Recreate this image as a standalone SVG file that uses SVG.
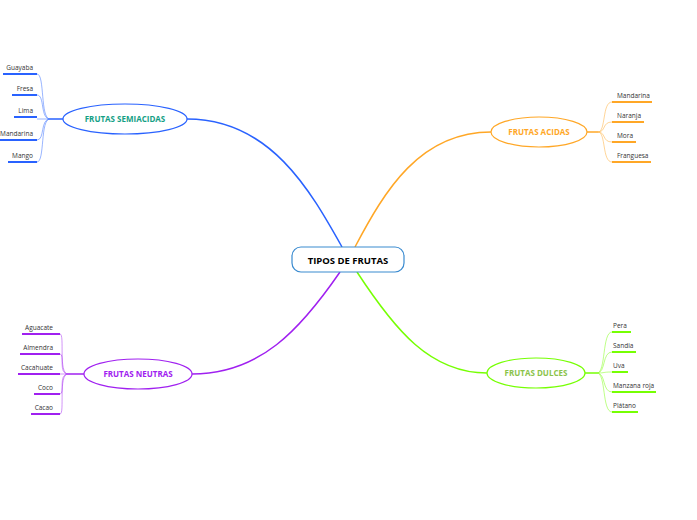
<svg xmlns="http://www.w3.org/2000/svg" width="697" height="520" viewBox="0 0 697 520">
<style>
text{font-family:"Open Sans","Noto Sans",sans-serif}
.leaf{font-size:6.5px;fill:#333}
.lr{text-anchor:end}
.main{font-size:8px;font-weight:bold;text-anchor:middle}
.c{fill:none}
.b{stroke:#2962ff}.o{stroke:#ffa726}.p{stroke:#a020f0}.g{stroke:#76ff03}
.thin{stroke-width:0.8;opacity:0.6}
.ul{stroke-width:2}
</style>
<rect width="697" height="520" fill="#fff"/>
<g id="connectors" class="c">
<path class="b" stroke-width="1.5" d="M342,247 C310,190 270,119 187,119"/>
<path class="o" stroke-width="1.5" d="M355,247 C385,190 420,132 491,132"/>
<path class="p" stroke-width="1.5" d="M340,272 C300,330 260,374 192,374"/>
<path class="g" stroke-width="1.5" d="M357,272 C395,330 430,373 487,373"/>
<path class="b" stroke-width="1.5" d="M63,119 H50"/>
<path class="b thin" d="M50,119 C40,119 45,74 37,74 M50,119 C40,119 45,95 37,95 M50,119 H37 M50,119 C40,119 45,140 37,140 M50,119 C40,119 45,162 37,162"/>
<path class="b ul" d="M3,74H37 M12,95H37 M14,117H37 M0,140H37 M8,162H37"/>
<path class="o" stroke-width="1.5" d="M587,132 H598"/>
<path class="o thin" d="M598,132 C606,132 602,102 612,102 M598,132 C606,132 602,122 612,122 M598,132 C606,132 602,142 612,142 M598,132 C606,132 602,162 612,162"/>
<path class="o ul" d="M612,102H652 M612,122H644 M612,142H636 M612,162H651"/>
<path class="p" stroke-width="1.5" d="M84,374 H68"/>
<path class="p thin" d="M68,374 C58,374 65,334 60,334 M68,374 C58,374 65,354 60,354 M68,374 H60 M68,374 C58,374 65,394 60,394 M68,374 C58,374 65,414 60,414"/>
<path class="p ul" d="M22,334H60 M20,354H60 M18,374H60 M34,394H60 M31,414H60"/>
<path class="g" stroke-width="1.5" d="M585,373 H597"/>
<path class="g thin" d="M597,373 C606,373 602,332 612,332 M597,373 C606,373 602,352 612,352 M597,373 C606,373 602,372 612,372 M597,373 C606,373 602,392 612,392 M597,373 C606,373 602,412 612,412"/>
<path class="g ul" d="M612,332H631 M612,352H636 M612,372H628 M612,392H656 M612,412H638"/>
</g>
<g id="root">
<rect x="292" y="247" width="112" height="25" rx="9" fill="#fff" stroke="#3a8bd0" stroke-width="1.2"/>
<text x="348" y="263.5" font-size="9.5" font-weight="bold" text-anchor="middle" fill="#000">TIPOS DE FRUTAS</text>
</g>
<g id="semiacidas">
<ellipse cx="125" cy="119" rx="62" ry="15" fill="#fff" stroke="#2962ff" stroke-width="1.2"/>
<text class="main" x="125" y="122" fill="#14a085">FRUTAS SEMIACIDAS</text>
<text class="leaf lr" x="33" y="70">Guayaba</text>
<text class="leaf lr" x="33" y="91">Fresa</text>
<text class="leaf lr" x="33" y="113">Lima</text>
<text class="leaf lr" x="33" y="136">Mandarina</text>
<text class="leaf lr" x="33" y="158">Mango</text>
</g>
<g id="acidas">
<ellipse cx="539" cy="132" rx="48" ry="15" fill="#fff" stroke="#ffa726" stroke-width="1.2"/>
<text class="main" x="539" y="135" fill="#ffa726">FRUTAS ACIDAS</text>
<text class="leaf" x="617" y="98">Mandarina</text>
<text class="leaf" x="617" y="118">Naranja</text>
<text class="leaf" x="617" y="138">Mora</text>
<text class="leaf" x="617" y="158">Franguesa</text>
</g>
<g id="neutras">
<ellipse cx="138" cy="374" rx="54" ry="15" fill="#fff" stroke="#a020f0" stroke-width="1.2"/>
<text class="main" x="138" y="377" fill="#a020f0">FRUTAS NEUTRAS</text>
<text class="leaf lr" x="53" y="330">Aguacate</text>
<text class="leaf lr" x="53" y="350">Almendra</text>
<text class="leaf lr" x="53" y="370">Cacahuate</text>
<text class="leaf lr" x="53" y="390">Coco</text>
<text class="leaf lr" x="53" y="410">Cacao</text>
</g>
<g id="dulces">
<ellipse cx="536" cy="373" rx="49" ry="15" fill="#fff" stroke="#76ff03" stroke-width="1.2"/>
<text class="main" x="536" y="376" fill="#8bc34a">FRUTAS DULCES</text>
<text class="leaf" x="613" y="328">Pera</text>
<text class="leaf" x="613" y="348">Sandia</text>
<text class="leaf" x="613" y="368">Uva</text>
<text class="leaf" x="613" y="388">Manzana roja</text>
<text class="leaf" x="613" y="408">Plátano</text>
</g>
</svg>
